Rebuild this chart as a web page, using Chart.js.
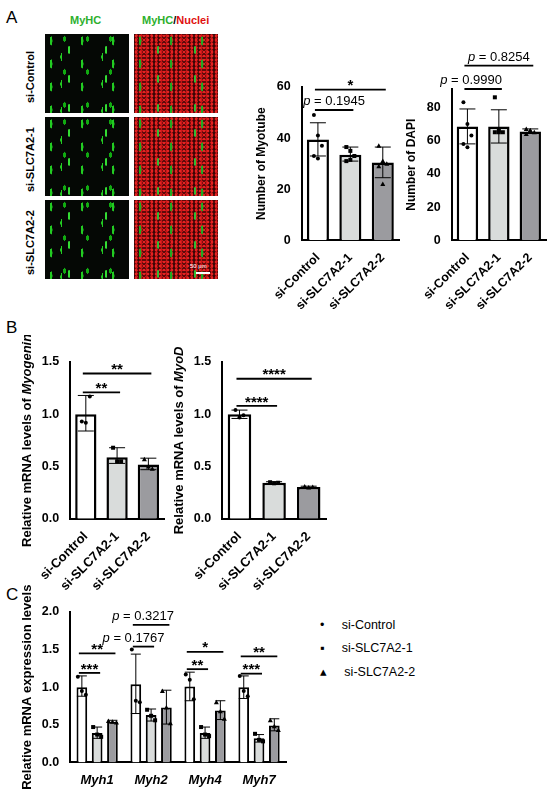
<!DOCTYPE html>
<html><head><meta charset="utf-8">
<script src="https://cdn.jsdelivr.net/npm/chart.js@4"></script>
<style>
body{margin:0;width:550px;height:790px;background:#fff;font-family:"Liberation Sans",Arial,sans-serif;position:relative;overflow:hidden}
.box{position:absolute}
.lbl{position:absolute;font-size:17px}
.img{position:absolute;width:84px;height:79px}
.g{background:#050805;background-image:radial-gradient(ellipse 2px 7px at 20% 30%,#2c2 60%,transparent 70%),radial-gradient(ellipse 2px 6px at 65% 55%,#3d3 60%,transparent 70%),radial-gradient(ellipse 2px 5px at 85% 15%,#1a1 60%,transparent 70%),radial-gradient(ellipse 1.5px 6px at 40% 85%,#2c2 60%,transparent 70%);background-size:31px 23px,37px 29px,23px 33px,41px 27px}
.r{background:#3a0505;background-image:radial-gradient(ellipse 2px 7px at 20% 30%,#2a2 60%,transparent 70%),radial-gradient(ellipse 2px 6px at 65% 55%,#3b3 60%,transparent 70%),radial-gradient(circle,#e52222 1.1px,transparent 1.7px),radial-gradient(circle,#c01515 1px,transparent 1.6px);background-size:31px 23px,37px 29px,4px 4px,5px 3px}
.rl{position:absolute;font-size:11px;font-weight:bold;transform:rotate(-90deg);transform-origin:left top;white-space:nowrap}
.leg{position:absolute;left:320px;font-size:12.5px}
</style></head><body>
<div class="lbl" style="left:6px;top:8px">A</div>
<div class="lbl" style="left:6px;top:318px">B</div>
<div class="lbl" style="left:6px;top:585px">C</div>
<div style="position:absolute;left:70px;top:14px;font-size:11px;font-weight:bold;color:#2db02d">MyHC</div>
<div style="position:absolute;left:142px;top:14px;font-size:11px;font-weight:bold"><span style="color:#2db02d">MyHC</span>/<span style="color:#e01010">Nuclei</span></div>
<div class="img g" style="left:45px;top:34px"></div><div class="img r" style="left:134px;top:34px"></div>
<div class="img g" style="left:45px;top:117px"></div><div class="img r" style="left:134px;top:117px"></div>
<div class="img g" style="left:45px;top:200px"></div><div class="img r" style="left:134px;top:200px"></div>
<div style="position:absolute;left:196px;top:272px;width:14px;height:2px;background:#fff"></div>
<div style="position:absolute;left:190px;top:263px;font-size:6px;color:#fff">50 μm</div>
<div class="rl" style="left:24px;top:103px">si-Control</div>
<div class="rl" style="left:24px;top:192px">si-SLC7A2-1</div>
<div class="rl" style="left:24px;top:275px">si-SLC7A2-2</div>
<div class="box" style="left:255px;top:40px;width:150px;height:275px"><canvas id="a1"></canvas></div>
<div class="box" style="left:405px;top:40px;width:145px;height:275px"><canvas id="a2"></canvas></div>
<div class="box" style="left:20px;top:335px;width:150px;height:275px"><canvas id="b1"></canvas></div>
<div class="box" style="left:172px;top:335px;width:160px;height:275px"><canvas id="b2"></canvas></div>
<div class="box" style="left:20px;top:585px;width:270px;height:205px"><canvas id="c1"></canvas></div>
<div class="leg" style="top:618px">•&nbsp;&nbsp;&nbsp;&nbsp;&nbsp;si-Control</div>
<div class="leg" style="top:641px">▪&nbsp;&nbsp;&nbsp;&nbsp;&nbsp;si-SLC7A2-1</div>
<div class="leg" style="top:664px">▴&nbsp;&nbsp;&nbsp;&nbsp;&nbsp;si-SLC7A2-2</div>
<script>
const groups = ['si-Control', 'si-SLC7A2-1', 'si-SLC7A2-2'];
const fills = ['#ffffff', '#d9dcdb', '#9b9b9f'];

// A: myotube / DAPI counts
const myotubeMean = [39.5, 33.5, 30.5];
const myotubeErr = [[33, 46], [31, 36.5], [24.5, 36.5]];
const myotubePts = [[49, 41, 37, 33, 32], [36.5, 35, 33, 31, 31.5], [37, 31, 30, 29, 22]];
const dapiMean = [68.5, 68.5, 65.5];
const dapiErr = [[58, 79], [58.5, 78.5], [64.5, 67]];
const dapiPts = [[83, 70, 63, 58, 56], [86, 65, 65, 65, 66], [67, 66, 65, 64, 66]];

// B: qPCR
const myogMean = [1.0, 0.59, 0.52];
const myogErr = [[0.84, 1.18], [0.53, 0.68], [0.47, 0.58]];
const myogPts = [[0.93, 0.92, 1.17], [0.68, 0.55, 0.55], [0.57, 0.5, 0.48]];
const myodMean = [1.0, 0.345, 0.305];
const myodErr = [[0.96, 1.04], [0.335, 0.355], [0.298, 0.312]];
const myodPts = [[1.04, 0.97, 0.99], [0.35, 0.34, 0.345], [0.31, 0.3, 0.305]];

// C: Myh genes
const genes = ['Myh1', 'Myh2', 'Myh4', 'Myh7'];
const myhMean = [[1.0, 1.04, 1.01, 1.0], [0.39, 0.63, 0.39, 0.32], [0.54, 0.73, 0.69, 0.49]];
const myhErr = [
  [[0.88, 1.15], [0.65, 1.44], [0.82, 1.2], [0.85, 1.15]],
  [[0.32, 0.47], [0.55, 0.71], [0.32, 0.47], [0.27, 0.37]],
  [[0.53, 0.56], [0.51, 0.96], [0.57, 0.82], [0.42, 0.58]]
];
const myhPts = [
  [[1.14, 0.95, 0.9], [1.5, 0.82, 0.8], [1.17, 1.1, 0.84], [1.15, 0.95, 0.88]],
  [[0.47, 0.37, 0.34], [0.7, 0.62, 0.56], [0.47, 0.37, 0.35], [0.38, 0.3, 0.28]],
  [[0.55, 0.54, 0.53], [0.95, 0.73, 0.52], [0.8, 0.68, 0.58], [0.56, 0.48, 0.43]]
];

function mixed(ctx, parts, x, y, size, align) {
  // parts: [text, italic, regular weight]
  const f = p => (p[1] ? 'italic ' : '') + (p[2] ? '' : 'bold ') + size + 'px "Liberation Sans"';
  let w = 0;
  parts.forEach(p => { ctx.font = f(p); w += ctx.measureText(p[0]).width; });
  let sx = align === 'center' ? x - w / 2 : x;
  ctx.textAlign = 'left';
  parts.forEach(p => { ctx.font = f(p); ctx.fillText(p[0], sx, y); sx += ctx.measureText(p[0]).width; });
}

const extras = {
  id: 'extras',
  afterDatasetsDraw(chart, args, o) {
    const ctx = chart.ctx, y = chart.scales.y, ca = chart.chartArea;
    ctx.save();
    ctx.strokeStyle = '#000'; ctx.fillStyle = '#000'; ctx.lineWidth = 1;
    chart.data.datasets.forEach((ds, d) => {
      chart.getDatasetMeta(d).data.forEach((bar, i) => {
        const e = o.err[d][i], x = bar.x, w = o.cap;
        ctx.beginPath();
        ctx.moveTo(x, y.getPixelForValue(e[0])); ctx.lineTo(x, y.getPixelForValue(e[1]));
        ctx.moveTo(x - w, y.getPixelForValue(e[0])); ctx.lineTo(x + w, y.getPixelForValue(e[0]));
        ctx.moveTo(x - w, y.getPixelForValue(e[1])); ctx.lineTo(x + w, y.getPixelForValue(e[1]));
        ctx.stroke();
        const shape = o.shapes ? d : i;
        o.pts[d][i].forEach((v, k) => {
          const dx = (k % 3 - 1) * 4, py = y.getPixelForValue(v);
          if (shape === 1) ctx.fillRect(x + dx - 2, py - 2, 4, 4);
          else if (shape === 2) { ctx.beginPath(); ctx.moveTo(x + dx, py - 2.5); ctx.lineTo(x + dx + 2.5, py + 2); ctx.lineTo(x + dx - 2.5, py + 2); ctx.fill(); }
          else { ctx.beginPath(); ctx.arc(x + dx, py, 2, 0, 7); ctx.fill(); }
        });
      });
    });
    ctx.lineWidth = 1.8;
    ctx.textBaseline = 'bottom';
    (o.brackets || []).forEach(b => {
      const m0 = chart.getDatasetMeta(b.a[0]).data[b.a[1]], m1 = chart.getDatasetMeta(b.b[0]).data[b.b[1]];
      const py = y.getPixelForValue(b.y), x0 = m0.x - 3, x1 = m1.x + 3;
      ctx.beginPath(); ctx.moveTo(x0, py); ctx.lineTo(x1, py); ctx.stroke();
      const cx = (x0 + x1) / 2 + (b.dx || 0);
      if (b.t.startsWith('p')) mixed(ctx, [['p', true, 1], [b.t.slice(1), false, 1]], cx, py - 2, 13, 'center');
      else { ctx.font = 'bold 15px "Liberation Sans"'; ctx.textAlign = 'center'; ctx.fillText(b.t, cx, py + 4); }
    });
    // y title with italic gene names
    ctx.translate(y.left + 7, (ca.top + ca.bottom) / 2);
    ctx.rotate(-Math.PI / 2);
    ctx.textBaseline = 'middle';
    mixed(ctx, o.title, 0, 0, o.titleSize || 12, 'center');
    ctx.restore();
  }
};

function opts(max, step, pad, o, rot, italic, xSize) {
  return {
    responsive: true, maintainAspectRatio: false, animation: false,
    layout: { padding: pad },
    plugins: { legend: { display: false }, tooltip: { enabled: false }, extras: o },
    scales: {
      x: { grid: { display: false }, border: { color: '#000', width: 2 },
        ticks: { color: '#000', padding: 2, font: { family: 'Liberation Sans', size: xSize || 12.5, weight: 'bold', style: italic ? 'italic' : 'normal' }, maxRotation: rot, minRotation: rot } },
      y: { min: 0, max: max, grid: { display: false }, border: { color: '#000', width: 2 },
        afterBuildTicks: s => { s.ticks = s.ticks.filter(t => Math.abs(t.value / step - Math.round(t.value / step)) < 1e-6); },
        ticks: { stepSize: step, color: '#000', font: { family: 'Liberation Sans', size: 12.5, weight: 'bold' }, callback: v => step < 1 ? v.toFixed(1) : v },
        title: { display: true, text: 'X', color: 'rgba(0,0,0,0)', font: { size: 14 }, padding: 1 } }
    }
  };
}

function simple(id, title, mean, err, pts, max, step, pad, brackets, xSize, titleSize) {
  new Chart(document.getElementById(id), {
    type: 'bar',
    data: { labels: groups, datasets: [{ data: mean, backgroundColor: fills, borderColor: '#000', borderWidth: 2.5, categoryPercentage: 0.8, barPercentage: 0.85 }] },
    options: opts(max, step, pad, { title: title, titleSize: titleSize, err: [err], pts: [pts], brackets: brackets, cap: 8 }, 45, false, xSize),
    plugins: [extras]
  });
}

simple('a1', [['Number of Myotube', false]], myotubeMean, myotubeErr, myotubePts, 60, 20, { top: 47, right: 6 },
  [{ a: [0, 0], b: [0, 1], y: 51, t: 'p = 0.1945' }, { a: [0, 0], b: [0, 2], y: 59, t: '*' }]);
simple('a2', [['Number of DAPI', false]], dapiMean, dapiErr, dapiPts, 91, 20, { top: 49, right: 4 },
  [{ a: [0, 0], b: [0, 1], y: 91, t: 'p = 0.9990', dx: -12 }, { a: [0, 0], b: [0, 2], y: 105, t: 'p = 0.8254' }]);
simple('b1', [['Relative mRNA levels of ', false], ['Myogenin', true]], myogMean, myogErr, myogPts, 1.5, 0.5, { top: 27, right: 6, bottom: 14 },
  [{ a: [0, 0], b: [0, 1], y: 1.21, t: '**' }, { a: [0, 0], b: [0, 2], y: 1.39, t: '**' }], 13, 13);
simple('b2', [['Relative mRNA levels of ', false], ['MyoD', true]], myodMean, myodErr, myodPts, 1.5, 0.5, { top: 27, right: 6, bottom: 14 },
  [{ a: [0, 0], b: [0, 1], y: 1.08, t: '****' }, { a: [0, 0], b: [0, 2], y: 1.34, t: '****' }], 13, 13);

new Chart(document.getElementById('c1'), {
  type: 'bar',
  data: { labels: genes, datasets: groups.map((g, d) => ({ label: g, data: myhMean[d], backgroundColor: fills[d], borderColor: '#000', borderWidth: 2, categoryPercentage: 0.85, barPercentage: 0.7 })) },
  options: opts(2, 0.5, { top: 27, right: 4 }, {
    title: [['Relative mRNA expression levels', false]], titleSize: 13, err: myhErr, pts: myhPts, shapes: true, cap: 5,
    brackets: [
      { a: [0, 0], b: [1, 0], y: 1.19, t: '***' }, { a: [0, 0], b: [2, 0], y: 1.45, t: '**' },
      { a: [0, 1], b: [1, 1], y: 1.54, t: 'p = 0.1767', dx: -10 }, { a: [0, 1], b: [2, 1], y: 1.83, t: 'p = 0.3217', dx: -8 },
      { a: [0, 2], b: [1, 2], y: 1.24, t: '**' }, { a: [0, 2], b: [2, 2], y: 1.47, t: '*' },
      { a: [0, 3], b: [1, 3], y: 1.18, t: '***' }, { a: [0, 3], b: [2, 3], y: 1.41, t: '**' }
    ]
  }, 0, true, 13),
  plugins: [extras]
});
</script>
</body></html>
